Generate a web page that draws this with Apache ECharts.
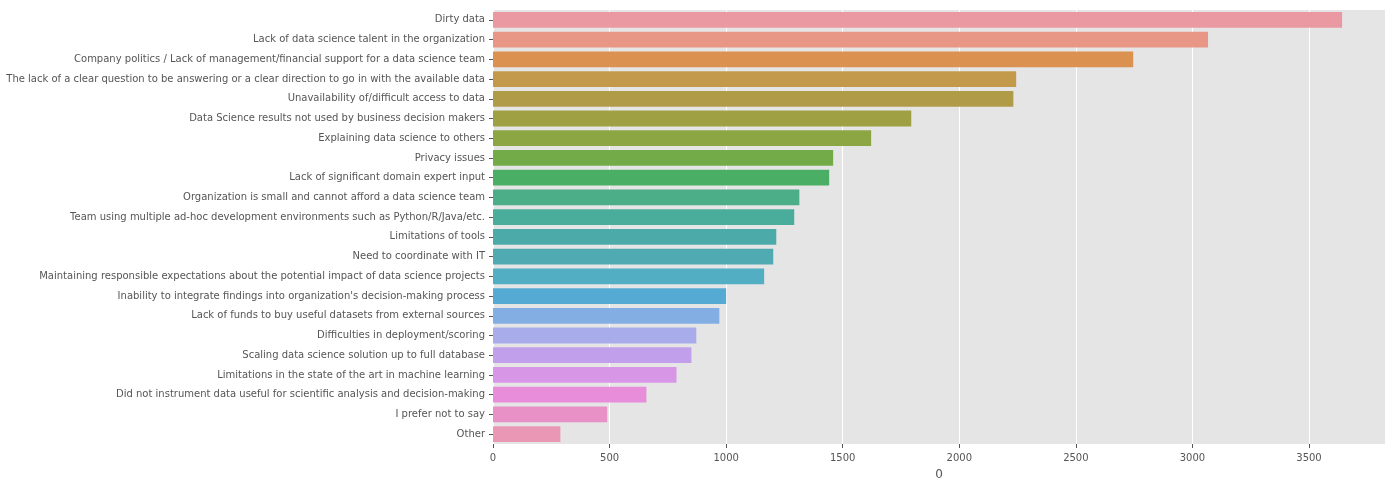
<!DOCTYPE html>
<html>
<head>
<meta charset="utf-8">
<script src="https://cdn.jsdelivr.net/npm/echarts@6/dist/echarts.min.js"></script>
<style>
  html, body { margin: 0; padding: 0; background: #fff; }
  #chart { width: 1395px; height: 486px; }
</style>
</head>
<body>
<div id="chart"></div>
<script>
// challenges faced at work, counts per answer
const categories = [
  'Dirty data',
  'Lack of data science talent in the organization',
  'Company politics / Lack of management/financial support for a data science team',
  'The lack of a clear question to be answering or a clear direction to go in with the available data',
  'Unavailability of/difficult access to data',
  'Data Science results not used by business decision makers',
  'Explaining data science to others',
  'Privacy issues',
  'Lack of significant domain expert input',
  'Organization is small and cannot afford a data science team',
  'Team using multiple ad-hoc development environments such as Python/R/Java/etc.',
  'Limitations of tools',
  'Need to coordinate with IT',
  'Maintaining responsible expectations about the potential impact of data science projects',
  "Inability to integrate findings into organization's decision-making process",
  'Lack of funds to buy useful datasets from external sources',
  'Difficulties in deployment/scoring',
  'Scaling data science solution up to full database',
  'Limitations in the state of the art in machine learning',
  'Did not instrument data useful for scientific analysis and decision-making',
  'I prefer not to say',
  'Other'
]
const counts = [3642, 3067, 2746, 2244, 2232, 1794, 1622, 1459, 1442, 1314, 1292,
  1215, 1202, 1163, 1000, 971, 872, 851, 787, 658, 490, 289]
const xTicks = [0, 500, 1000, 1500, 2000, 2500, 3000, 3500]

// husl-like palette, one per bar
const palette = ['#EA98A2', '#E89787', '#DB914F', '#C39A4B', '#B09B48', '#9FA044',
  '#8DA644', '#72AB47', '#4AAF64', '#4BAE88', '#4AAC9A', '#4CABA9', '#4FABB1',
  '#52AEC2', '#55AAD4', '#83AEE4', '#A8ACEA', '#C29FEA', '#D896E6', '#E88DDA',
  '#E891C6', '#EA97B6']

const chart = echarts.init(document.getElementById('chart'))
const font = 'DejaVu Sans'

const option = {
  animation: false,
  grid: {
    left: 493,
    right: 10,
    top: 10,
    bottom: 41,
    show: true,
    backgroundColor: '#E5E5E5',
    borderWidth: 0
  },
  xAxis: {
    type: 'value',
    min: 0,
    max: 3826,
    interval: 500,
    name: '0',
    nameLocation: 'middle',
    nameGap: 25,
    nameTextStyle: { color: '#555', fontSize: 12, fontFamily: font },
    axisLine: { show: false },
    axisTick: { show: true, length: 4, lineStyle: { color: '#555' } },
    axisLabel: {
      color: '#555', fontSize: 10, fontFamily: font, margin: 9,
      showMaxLabel: false,
      formatter: v => xTicks.includes(v) ? String(v) : ''
    },
    splitLine: { show: true, lineStyle: { color: '#fff', width: 1 } }
  },
  yAxis: {
    type: 'category',
    inverse: true,
    data: categories,
    axisLine: { show: false },
    axisTick: { show: true, length: 4, alignWithLabel: true, lineStyle: { color: '#555' } },
    axisLabel: { color: '#555', fontSize: 10, fontFamily: font, margin: 8 },
    splitLine: { show: false }
  },
  series: [{
    type: 'bar',
    data: counts,
    barCategoryGap: '20%',
    itemStyle: { color: p => palette[p.dataIndex] }
  }]
}

chart.setOption(option)
</script>
</body>
</html>
